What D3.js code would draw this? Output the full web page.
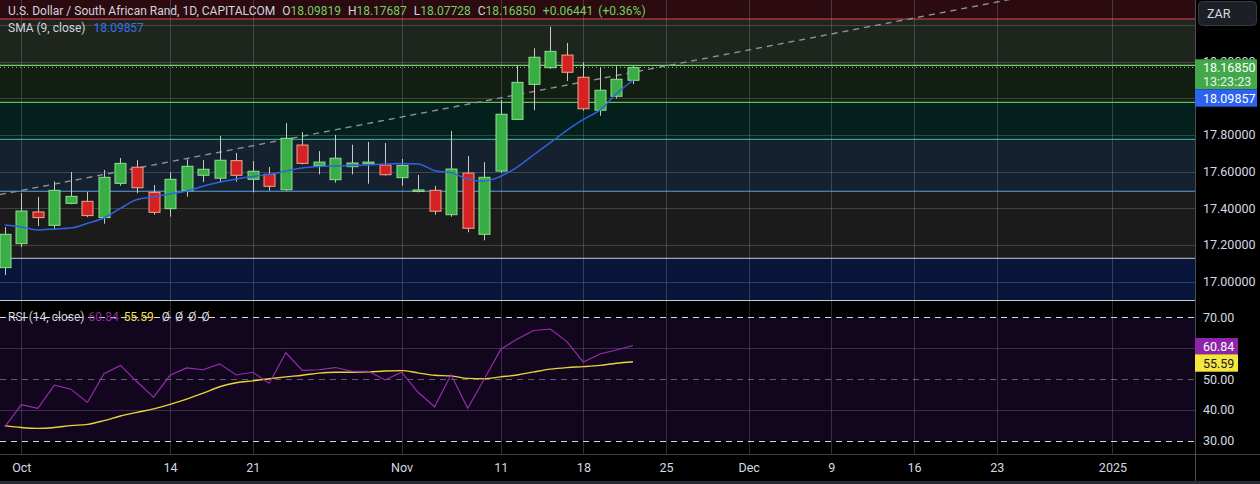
<!DOCTYPE html>
<html><head><meta charset="utf-8">
<script src="https://cdn.jsdelivr.net/npm/d3@7"></script>
<style>
html,body{margin:0;padding:0;background:#000;overflow:hidden}
svg{display:block}
text{font-family:Roboto,"Noto Sans","DejaVu Sans",sans-serif}
</style>
</head><body>
<svg id="c" width="1260" height="484"></svg>
<script>
// ---------------- DATA ----------------
const dates = ["2024-09-30","2024-10-01","2024-10-02","2024-10-03","2024-10-04","2024-10-07","2024-10-08","2024-10-09","2024-10-10","2024-10-11",
  "2024-10-14","2024-10-15","2024-10-16","2024-10-17","2024-10-18","2024-10-21","2024-10-22","2024-10-23","2024-10-24","2024-10-25",
  "2024-10-28","2024-10-29","2024-10-30","2024-10-31","2024-11-01","2024-11-04","2024-11-05","2024-11-06","2024-11-07","2024-11-08",
  "2024-11-11","2024-11-12","2024-11-13","2024-11-14","2024-11-15","2024-11-18","2024-11-19","2024-11-20","2024-11-21"];
const openVals = [17.076,17.207,17.380,17.307,17.427,17.438,17.349,17.536,17.624,17.487,
  17.398,17.496,17.580,17.564,17.660,17.558,17.585,17.501,17.745,17.634,
  17.556,17.627,17.643,17.636,17.567,17.493,17.498,17.365,17.592,17.258,
  17.603,17.885,18.076,18.167,18.236,18.115,17.935,18.011,18.09819];
const highVals = [17.298,17.483,17.462,17.547,17.598,17.490,17.609,17.674,17.663,17.527,
  17.596,17.667,17.663,17.794,17.702,17.658,17.625,17.865,17.816,17.712,
  17.801,17.747,17.762,17.756,17.669,17.582,17.522,17.822,17.685,17.652,
  17.991,18.178,18.273,18.391,18.302,18.196,18.169,18.175,18.17687];
const lowVals = [17.036,17.188,17.303,17.283,17.422,17.352,17.316,17.523,17.482,17.365,
  17.354,17.463,17.543,17.540,17.545,17.487,17.496,17.494,17.639,17.585,
  17.540,17.585,17.534,17.578,17.523,17.487,17.365,17.354,17.269,17.225,
  17.592,17.882,17.935,18.160,18.094,17.932,17.905,17.998,18.07728];
const closeVals = [17.258,17.385,17.349,17.498,17.465,17.360,17.569,17.645,17.512,17.378,
  17.558,17.629,17.613,17.662,17.580,17.602,17.520,17.782,17.645,17.652,
  17.673,17.647,17.652,17.583,17.634,17.500,17.384,17.614,17.291,17.569,
  17.913,18.087,18.224,18.256,18.142,17.943,18.044,18.104,18.16850];
const sma9 = [17.309,17.298,17.282,17.287,17.292,17.318,17.347,17.400,17.448,17.462,
  17.478,17.494,17.520,17.543,17.560,17.574,17.584,17.603,17.620,17.628,
  17.631,17.633,17.636,17.642,17.644,17.642,17.605,17.594,17.560,17.548,
  17.575,17.625,17.692,17.758,17.825,17.885,17.935,18.025,18.09857];
const rsi14 = [34.5,41.7,40.5,48.0,46.7,42.4,51.7,54.4,49.1,44.1,
  51.2,53.6,53.0,54.9,51.3,52.2,48.6,58.5,52.8,53.0,
  53.7,52.5,52.5,49.7,52.2,45.7,41.0,51.4,40.5,49.9,
  59.6,63.0,65.7,66.2,62.1,55.5,58.1,59.4,60.84];
const rsiMA = [34.9,34.3,34.0,34.3,34.9,35.3,36.5,38.0,39.2,40.3,
  41.8,43.5,45.4,47.5,48.8,49.4,50.1,50.7,51.2,51.9,
  52.2,52.2,52.3,52.6,52.7,52.0,51.2,51.0,50.2,50.1,
  50.7,51.3,52.3,53.2,53.7,54.0,54.4,55.1,55.59];
const timeTickDates = ["2024-10-01","2024-10-14","2024-10-21","2024-11-01","2024-11-11","2024-11-18","2024-11-25","2024-12-02","2024-12-09","2024-12-16","2024-12-23","2025-01-01"];
const timeTickLabels = ["Oct","14","21","Nov","11","18","25","Dec","9","16","23","2025"];
const priceTicks = [17.0,17.2,17.4,17.6,17.8,18.0,18.2,18.4];
const priceTickLabels = ["17.00000","17.20000","17.40000","17.60000","17.80000","18.00000","18.20000",""];
const rsiTicks = [30,40,50,60,70];
const rsiTickLabels = ["30.00","40.00","50.00","60.00","70.00"];
const zoneLevels = [18.4326,18.180,17.978,17.776,17.493,17.127];
const trendPoints = [["2024-10-23",17.776],["2024-12-23",18.525]];
const lastClose = 18.16850, lastSMA = 18.09857, lastRSI = 60.84, lastRSIMA = 55.59;

// ---------------- STYLES ----------------
const zoneFills = ["#2b0b10","#1d251c","#131e12","#04201d","#15212e","#1b1b1c","#07153a"];
const zoneLines = ["#e0474a","#7ad472","#5cc15c","#2fa58c","#5aa5e6","#a3a6ad"];
const W = 1260, H = 484, PR = 1195;
const MAIN = {top:0, bottom:300}, RSI = {top:301, bottom:454};
const TXT = "#d1d4dc", FS = 12;

// trading calendar (weekdays) for x positions
const cal = [];
for (let d = new Date(Date.UTC(2024,8,30)); d <= new Date(Date.UTC(2025,1,28)); d.setUTCDate(d.getUTCDate()+1)) {
  const wd = d.getUTCDay(); if (wd !== 0 && wd !== 6) cal.push(d.toISOString().slice(0,10));
}
const idx = s => cal.indexOf(s);
const x = d3.scaleLinear().domain([idx("2024-10-01"), idx("2025-01-01")]).range([21.3, 1112.4]);
const xd = s => x(idx(s));
const y = d3.scaleLinear().domain([17, 18]).range([281.6, 98.3]);
const yr = d3.scaleLinear().domain([30, 70]).range([440.7, 317.3]);

const svg = d3.select("#c");
svg.append("rect").attr("width",W).attr("height",H).attr("fill","#000");
const defs = svg.append("defs");
defs.append("clipPath").attr("id","cm").append("rect").attr("x",0).attr("y",MAIN.top).attr("width",PR).attr("height",MAIN.bottom-MAIN.top);
defs.append("clipPath").attr("id","cr").append("rect").attr("x",0).attr("y",RSI.top).attr("width",PR).attr("height",RSI.bottom-RSI.top);

// helper: flowing legend text segments
function flow(g, x0, yb, segs) {
  let cx = x0;
  segs.forEach(([txt, col, gap]) => {
    const t = g.append("text").attr("x",cx).attr("y",yb).attr("fill",col).attr("font-size",FS).text(txt);
    cx += t.node().getComputedTextLength() + gap;
  });
}

// ---------------- MAIN PANE ----------------
const gm = svg.append("g").attr("clip-path","url(#cm)");
const bounds = [MAIN.top, ...zoneLevels.map(v=>y(v)), MAIN.bottom];
gm.selectAll("rect.zone").data(zoneFills).join("rect").attr("class","zone")
  .attr("x",0).attr("width",PR).attr("y",(d,i)=>bounds[i]).attr("height",(d,i)=>bounds[i+1]-bounds[i]).attr("fill",d=>d);
// grid
gm.selectAll("line.hg").data(priceTicks).join("line").attr("x1",0).attr("x2",PR)
  .attr("y1",d=>Math.round(y(d))+0.5).attr("y2",d=>Math.round(y(d))+0.5).attr("stroke","rgba(150,155,165,0.3)").attr("stroke-width",1);
gm.selectAll("line.vg").data(timeTickDates).join("line").attr("y1",MAIN.top).attr("y2",MAIN.bottom)
  .attr("x1",d=>Math.round(xd(d))+0.5).attr("x2",d=>Math.round(xd(d))+0.5).attr("stroke","rgba(150,155,165,0.3)").attr("stroke-width",1);
// zone lines
gm.selectAll("line.zl").data(zoneLevels).join("line").attr("x1",0).attr("x2",PR)
  .attr("y1",d=>y(d)).attr("y2",d=>y(d)).attr("stroke",(d,i)=>zoneLines[i]).attr("stroke-width",1.2);
// trend line (extended)
{
  const i1 = idx(trendPoints[0][0]), i2 = idx(trendPoints[1][0]);
  const slope = (trendPoints[1][1]-trendPoints[0][1])/(i2-i1);
  const iL = x.invert(0), iR = x.invert(PR);
  const pL = trendPoints[0][1] + (iL-i1)*slope, pR = trendPoints[0][1] + (iR-i1)*slope;
  gm.append("line").attr("x1",x(iL)).attr("y1",y(pL)).attr("x2",x(iR)).attr("y2",y(pR))
    .attr("stroke","#8c9099").attr("stroke-width",1.4).attr("stroke-dasharray","6,5");
}
// current price dotted line
gm.append("line").attr("x1",0).attr("x2",PR).attr("y1",y(lastClose)).attr("y2",y(lastClose))
  .attr("stroke","#7fd47a").attr("stroke-width",1).attr("stroke-dasharray","1,3");

// candles
const candles = dates.map((d,i)=>({d, o:openVals[i], h:highVals[i], l:lowVals[i], c:closeVals[i]}));
const bw = 11;
gm.selectAll("line.wick").data(candles).join("line")
  .attr("x1",d=>Math.round(xd(d.d))+0.5).attr("x2",d=>Math.round(xd(d.d))+0.5)
  .attr("y1",d=>y(d.h)).attr("y2",d=>y(d.l)).attr("stroke","#c8c8c8").attr("stroke-width",1);
gm.selectAll("rect.body").data(candles).join("rect")
  .attr("x",d=>Math.round(xd(d.d))-bw/2+0.5).attr("width",bw)
  .attr("y",d=>y(Math.max(d.o,d.c))).attr("height",d=>Math.max(1.5,Math.abs(y(d.o)-y(d.c))))
  .attr("fill",d=>d.c>=d.o?"#3aae46":"#d42222")
  .attr("stroke",d=>d.c>=d.o?"#8ee08a":"#f4a58e").attr("stroke-width",1);
// SMA
gm.append("path").datum(sma9).attr("fill","none").attr("stroke","#2f62e0").attr("stroke-width",1.5)
  .attr("d",d3.line().x((v,i)=>xd(dates[i])).y(v=>y(v)).curve(d3.curveMonotoneX));

// header
const hdr = svg.append("g");
const GRN = "#6fcf62";
{
  let cx = 8;
  const t0 = hdr.append("text").attr("x",cx).attr("y",14.5).attr("fill",TXT).attr("font-size",FS).text("U.S. Dollar / South African Rand, 1D, CAPITALCOM");
  cx += t0.node().getComputedTextLength() + 7;
  [["O","18.09819"],["H","18.17687"],["L","18.07728"],["C","18.16850"]].forEach(([k,v])=>{
    const t = hdr.append("text").attr("x",cx).attr("y",14.5).attr("font-size",FS);
    t.append("tspan").attr("fill",TXT).text(k);
    t.append("tspan").attr("fill",GRN).text(v);
    cx += t.node().getComputedTextLength() + 7;
  });
  flow(hdr, cx, 14.5, [["+0.06441",GRN,5],["(+0.36%)",GRN,0]]);
}
flow(hdr, 8, 32, [["SMA (9, close)",TXT,8],["18.09857","#3a6ee8",0]]);

// ---------------- RSI PANE ----------------
const gr = svg.append("g").attr("clip-path","url(#cr)");
gr.append("rect").attr("x",0).attr("width",PR).attr("y",yr(70)).attr("height",yr(30)-yr(70)).attr("fill","#12061e");
gr.selectAll("line.vg").data(timeTickDates).join("line").attr("y1",RSI.top).attr("y2",RSI.bottom)
  .attr("x1",d=>Math.round(xd(d))+0.5).attr("x2",d=>Math.round(xd(d))+0.5).attr("stroke","rgba(150,140,170,0.3)");
gr.selectAll("line.hg").data([40,60]).join("line").attr("x1",0).attr("x2",PR)
  .attr("y1",d=>Math.round(yr(d))+0.5).attr("y2",d=>Math.round(yr(d))+0.5).attr("stroke","rgba(150,140,170,0.3)");
// legend
const lg = svg.append("g");
flow(lg, 8, 321, [["RSI (14, close)",TXT,4],["60.84","#8e2fa0",5],["55.59","#f2e14a",8],["Ø",TXT,5],["Ø",TXT,5],["Ø",TXT,5],["Ø",TXT,0]]);
// level lines
gr.selectAll("line.lvl").data([70,50,30]).join("line").attr("x1",0).attr("x2",PR)
  .attr("y1",d=>Math.round(yr(d))+0.5).attr("y2",d=>Math.round(yr(d))+0.5)
  .attr("stroke",d=>d===50?"rgba(200,200,210,0.45)":"#d8d8d8").attr("stroke-width",1).attr("stroke-dasharray","6,5");
gr.append("path").datum(rsiMA).attr("fill","none").attr("stroke","#e9d23c").attr("stroke-width",1.4)
  .attr("d",d3.line().x((v,i)=>xd(dates[i])).y(v=>yr(v)).curve(d3.curveMonotoneX));
gr.append("path").datum(rsi14).attr("fill","none").attr("stroke","#9a2fb0").attr("stroke-width",1.1)
  .attr("d",d3.line().x((v,i)=>xd(dates[i])).y(v=>yr(v)));

// separators
svg.append("line").attr("x1",0).attr("x2",PR).attr("y1",300.5).attr("y2",300.5).attr("stroke","#c5c9d2").attr("stroke-width",1);
svg.append("line").attr("x1",0).attr("x2",W).attr("y1",454.5).attr("y2",454.5).attr("stroke","#3c3f47").attr("stroke-width",1);
svg.append("line").attr("x1",PR+0.5).attr("x2",PR+0.5).attr("y1",0).attr("y2",481).attr("stroke","#4a4d55").attr("stroke-width",1);
svg.append("rect").attr("x",0).attr("y",481).attr("width",W).attr("height",3).attr("fill","#2a2d33");

// ---------------- AXES ----------------
const yAxis = d3.axisRight(y).tickValues(priceTicks).tickSize(0).tickPadding(0).tickFormat((d,i)=>priceTickLabels[i]);
const ya = svg.append("g").attr("transform",`translate(${PR+8},0)`).call(yAxis);
ya.select(".domain").remove();
ya.selectAll("text").attr("fill","#d6d9e0").attr("font-size",12.5).attr("font-family","Roboto, sans-serif");

const rAxis = d3.axisRight(yr).tickValues(rsiTicks).tickSize(0).tickPadding(0).tickFormat((d,i)=>rsiTickLabels[i]);
const ra = svg.append("g").attr("transform",`translate(${PR+8},0)`).call(rAxis);
ra.select(".domain").remove();
ra.selectAll("text").attr("fill","#d6d9e0").attr("font-size",12.5).attr("font-family","Roboto, sans-serif");

const xAxis = d3.axisBottom(d3.scaleLinear().domain(x.domain()).range(x.range()))
  .tickValues(timeTickDates.map(idx)).tickSize(0).tickPadding(0).tickFormat((d,i)=>timeTickLabels[i]);
const xa = svg.append("g").attr("transform","translate(0,463)").call(xAxis);
xa.select(".domain").remove();
xa.selectAll("text").attr("fill","#d6d9e0").attr("font-size",12.5).attr("font-family","Roboto, sans-serif");

// ZAR box
svg.append("rect").attr("x",1198.5).attr("y",1.5).attr("width",58).attr("height",24).attr("rx",4)
  .attr("fill","#1c1f26").attr("stroke","#363a45");
svg.append("text").attr("x",1207).attr("y",18).attr("fill","#d6d9e0").attr("font-size",12.5).text("ZAR");

// price labels
svg.append("rect").attr("x",PR).attr("y",59.3).attr("width",62).attr("height",30).attr("fill","#43a84a");
svg.append("text").attr("x",1203).attr("y",72).attr("fill","#fff").attr("font-size",12.5).text("18.16850");
svg.append("text").attr("x",1203).attr("y",86).attr("fill","#e8f5e8").attr("font-size",12.5).text("13:23:23");
svg.append("rect").attr("x",PR).attr("y",89.3).attr("width",62).attr("height",17.4).attr("fill","#2e62f0");
svg.append("text").attr("x",1203).attr("y",102.5).attr("fill","#fff").attr("font-size",12.5).text("18.09857");
svg.append("rect").attr("x",PR).attr("y",338).attr("width",43).attr("height",16.3).attr("fill","#8e24a8");
svg.append("text").attr("x",1203).attr("y",350.5).attr("fill","#fff").attr("font-size",12.5).text("60.84");
svg.append("rect").attr("x",PR).attr("y",354.3).attr("width",43).attr("height",17.4).attr("fill","#f5e63f");
svg.append("text").attr("x",1203).attr("y",367.5).attr("fill","#131722").attr("font-size",12.5).text("55.59");
</script>
</body></html>
